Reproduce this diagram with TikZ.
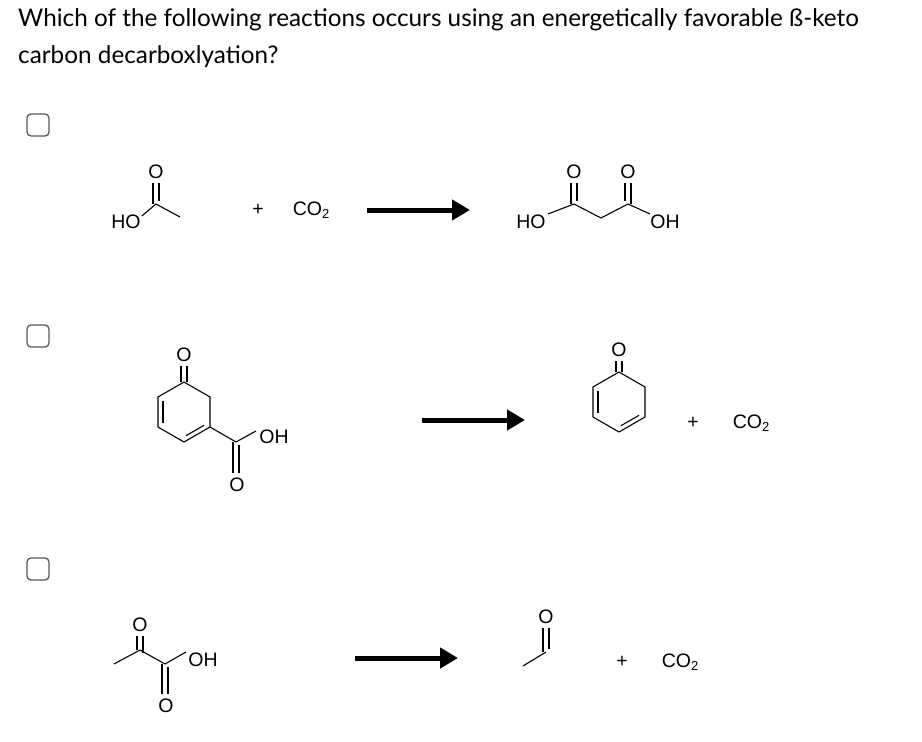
\documentclass[tikz,border=0pt]{standalone}
\usepackage{fontspec}
\setmainfont{Lato}
\newfontfamily\chemfont{Liberation Sans}
\usetikzlibrary{arrows.meta,calc}
\newcommand{\cotwo}{CO\raisebox{-0.35ex}{\fontsize{13}{13}\selectfont 2}}
\begin{document}
\begin{tikzpicture}[x=1pt,y=-1pt,
  bond/.style={line width=1.1pt,black},
  atom/.style={font=\chemfont\fontsize{19.5}{20}\selectfont,inner sep=1pt},
  bigarrow/.style={line width=5pt,-{Triangle[length=18pt,width=20pt]}},
  chk/.style={draw=gray!70!black,line width=1.3pt,rounded corners=4pt,minimum size=22pt,inner sep=0pt},
  qtext/.style={font=\fontsize{24.3}{37}\selectfont,anchor=north west,align=left,inner sep=0pt}]
\useasboundingbox (0,0) rectangle (922,742);
\fill[white] (0,0) rectangle (922,742);
\node[qtext] (q) at (18,8) {Which of the following reactions occurs using an energetically favorable ß-keto\\carbon decarboxlyation?};
\node[chk] (c1) at (38,125) {};
\node[chk] (c2) at (38,336) {};
\node[chk] (c3) at (38,569) {};

% Reaction 1
\node[atom] (ho1) at (126,222) {HO};
\node[atom] (o1) at (156,172) {O};
\coordinate (a1) at (156,204);
\coordinate (m1) at (180,217);
\draw[bond] (ho1.east) ++(0,-6) -- (a1) -- (m1);
\draw[bond] (153,183) -- (153,204);
\draw[bond] (159,183) -- (159,201);
\node[atom] (p1) at (258,210) {+};
\node[atom] (co1) at (311,210) {\cotwo};
\draw[bigarrow] (367,210) -- (470,210);
\node[atom] (ho2) at (531,222) {HO};
\node[atom] (o2) at (574,172) {O};
\node[atom] (o3) at (628,172) {O};
\node[atom] (oh2) at (665,222) {OH};
\coordinate (b1) at (574,204);
\coordinate (b2) at (601,218);
\coordinate (b3) at (628,204);
\draw[bond] (548,214) -- (b1) -- (b2) -- (b3) -- (650,214);
\draw[bond] (571,183) -- (571,204);
\draw[bond] (577,183) -- (577,201);
\draw[bond] (625,183) -- (625,201);
\draw[bond] (631,183) -- (631,204);

% Reaction 2 reactant
\node[atom] (o4) at (184,355) {O};
\coordinate (r1) at (184,382);
\coordinate (r2) at (210,397);
\coordinate (r3) at (210,427);
\coordinate (r4) at (184,442);
\coordinate (r5) at (158,427);
\coordinate (r6) at (158,397);
\draw[bond] (r1)--(r2)--(r3)--(r4)--(r5)--(r6)--cycle;
\draw[bond] (181,366) -- (181,382);
\draw[bond] (187,366) -- (187,382);
\draw[bond] (163,401) -- (163,423);
\draw[bond] ($(r3)!0.15!(r4)+(-2,-4)$) -- ($(r3)!0.85!(r4)+(-2,-4)$);
\coordinate (k1) at (236,442);
\draw[bond] (r3) -- (k1) -- (256,431);
\node[atom] (oh4) at (274,437) {OH};
\draw[bond] (233,442) -- (233,473);
\draw[bond] (239,445) -- (239,473);
\node[atom] (o5) at (237,485) {O};
\draw[bigarrow] (422,420) -- (525,420);
% product
\node[atom] (o6) at (619,350) {O};
\coordinate (s1) at (619,372);
\coordinate (s2) at (645,387);
\coordinate (s3) at (645,417);
\coordinate (s4) at (619,432);
\coordinate (s5) at (593,417);
\coordinate (s6) at (593,387);
\draw[bond] (s1)--(s2)--(s3)--(s4)--(s5)--(s6)--cycle;
\draw[bond] (616,361) -- (616,372);
\draw[bond] (622,361) -- (622,372);
\draw[bond] (598,391) -- (598,413);
\draw[bond] ($(s3)!0.15!(s4)+(-2,-4)$) -- ($(s3)!0.85!(s4)+(-2,-4)$);
\node[atom] (p2) at (693,423) {+};
\node[atom] (co2) at (751,423) {\cotwo};

% Reaction 3
\node[atom] (o7) at (140,625) {O};
\coordinate (t0) at (114,664);
\coordinate (t1) at (140,650);
\coordinate (t2) at (165,664);
\draw[bond] (t0) -- (t1) -- (t2) -- (186,652);
\draw[bond] (137,636) -- (137,650);
\draw[bond] (143,636) -- (143,653);
\node[atom] (oh7) at (203,660) {OH};
\draw[bond] (162,664) -- (162,694);
\draw[bond] (168,667) -- (168,694);
\node[atom] (o8) at (166,706) {O};
\draw[bigarrow] (355,658) -- (458,658);
\node[atom] (o9) at (546,617) {O};
\coordinate (u0) at (523,666);
\coordinate (u1) at (546,652);
\draw[bond] (u0) -- (u1);
\draw[bond] (543,628) -- (543,652);
\draw[bond] (549,628) -- (549,649);
\node[atom] (p3) at (622,662) {+};
\node[atom] (co3) at (680,662) {\cotwo};
\end{tikzpicture}
\end{document}
